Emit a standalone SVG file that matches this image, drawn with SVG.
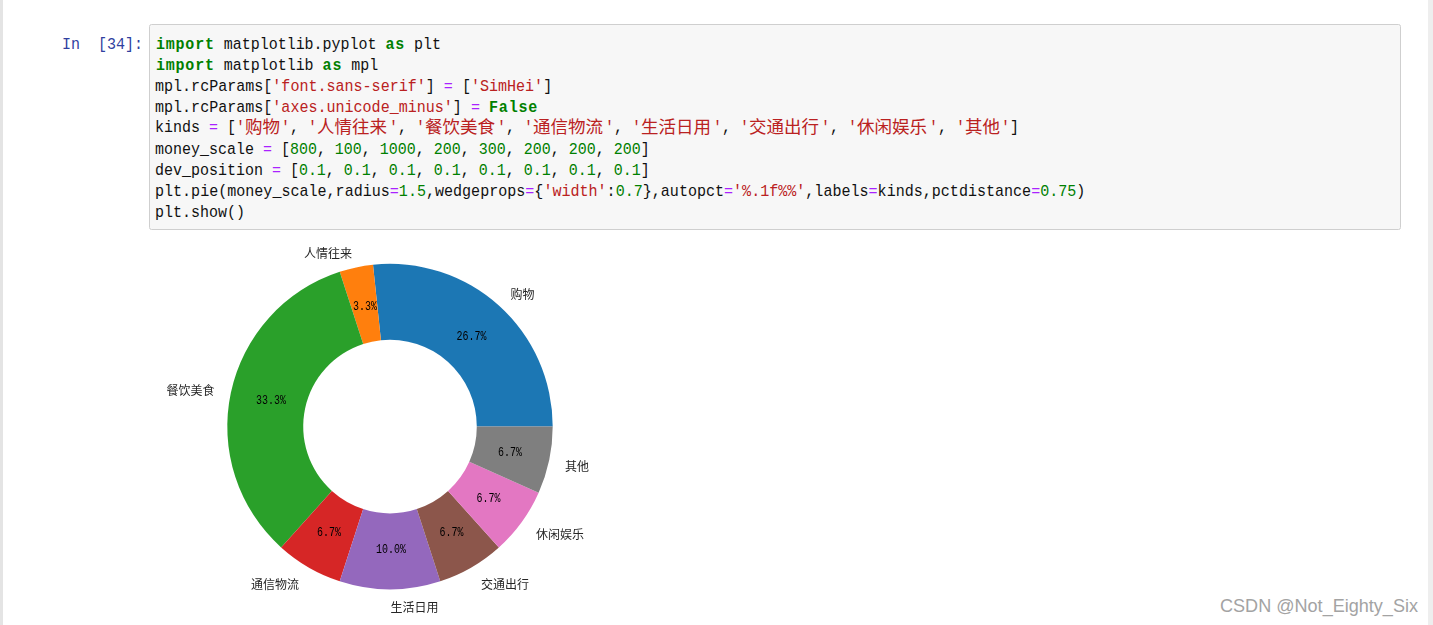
<svg xmlns="http://www.w3.org/2000/svg" width="1433" height="625" viewBox="0 0 1433 625">
<style>
.c{font-family:"Liberation Mono",monospace;font-size:17px;fill:#111;white-space:pre}
.k{fill:#008000;font-weight:bold;letter-spacing:.9px}
.o{fill:#aa22ff}
.s{fill:#ba2121}
.n{fill:#008000}
.h{font-family:"Noto Sans CJK SC",sans-serif;font-size:17.5px;fill:#ba2121}
.l{font-family:"Noto Sans CJK SC",sans-serif;font-size:12px;fill:#262626;text-anchor:middle;dominant-baseline:central}
.p{font-family:"Liberation Mono",monospace;font-size:12px;fill:#000;text-anchor:middle;dominant-baseline:central}
</style>
<defs><filter id="b" x="-5%" y="-5%" width="110%" height="110%"><feGaussianBlur stdDeviation="0.35"/></filter></defs>
<rect width="1433" height="625" fill="#fff"/>
<rect x="0" y="0" width="3" height="625" fill="#e4e4e4"/>
<rect x="1428" y="0" width="5" height="625" fill="#eeeeee"/>
<g id="prompt"><text class="c" transform="translate(62,49) scale(.882,1)" style="fill:#303f9f">In  [34]:</text></g>
<g id="cell">
<rect x="149.5" y="24.5" width="1251" height="205" rx="2" fill="#f7f7f7" stroke="#cfcfcf"/>
<text class="c" transform="translate(156,49) scale(.882,1)"><tspan class="k">import</tspan> matplotlib.pyplot <tspan class="k">as</tspan> plt</text>
<text class="c" transform="translate(156,70) scale(.882,1)"><tspan class="k">import</tspan> matplotlib <tspan class="k">as</tspan> mpl</text>
<text class="c" transform="translate(155,91) scale(.885,1)">mpl.rcParams[<tspan class="s">'font.sans-serif'</tspan>] <tspan class="o">=</tspan> [<tspan class="s">'SimHei'</tspan>]</text>
<text class="c" transform="translate(155,112) scale(.885,1)">mpl.rcParams[<tspan class="s">'axes.unicode_minus'</tspan>] <tspan class="o">=</tspan> <tspan class="k">False</tspan></text>
<text class="c" transform="translate(155,132) scale(.882,1)">kinds <tspan class="o">=</tspan> [<tspan class="s">'</tspan></text>
<text class="h" x="245" y="133">购物</text>
<text class="c" transform="translate(281,132) scale(.882,1)"><tspan class="s">'</tspan>, <tspan class="s">'</tspan></text>
<text class="h" x="317" y="133">人情往来</text>
<text class="c" transform="translate(389,132) scale(.882,1)"><tspan class="s">'</tspan>, <tspan class="s">'</tspan></text>
<text class="h" x="425" y="133">餐饮美食</text>
<text class="c" transform="translate(497,132) scale(.882,1)"><tspan class="s">'</tspan>, <tspan class="s">'</tspan></text>
<text class="h" x="533" y="133">通信物流</text>
<text class="c" transform="translate(605,132) scale(.882,1)"><tspan class="s">'</tspan>, <tspan class="s">'</tspan></text>
<text class="h" x="641" y="133">生活日用</text>
<text class="c" transform="translate(713,132) scale(.882,1)"><tspan class="s">'</tspan>, <tspan class="s">'</tspan></text>
<text class="h" x="749" y="133">交通出行</text>
<text class="c" transform="translate(821,132) scale(.882,1)"><tspan class="s">'</tspan>, <tspan class="s">'</tspan></text>
<text class="h" x="857" y="133">休闲娱乐</text>
<text class="c" transform="translate(929,132) scale(.882,1)"><tspan class="s">'</tspan>, <tspan class="s">'</tspan></text>
<text class="h" x="965" y="133">其他</text>
<text class="c" transform="translate(1001,132) scale(.882,1)"><tspan class="s">'</tspan>]</text>
<text class="c" transform="translate(155,154) scale(.882,1)">money_scale <tspan class="o">=</tspan> [<tspan class="n">800</tspan>, <tspan class="n">100</tspan>, <tspan class="n">1000</tspan>, <tspan class="n">200</tspan>, <tspan class="n">300</tspan>, <tspan class="n">200</tspan>, <tspan class="n">200</tspan>, <tspan class="n">200</tspan>]</text>
<text class="c" transform="translate(155,175) scale(.882,1)">dev_position <tspan class="o">=</tspan> [<tspan class="n">0.1</tspan>, <tspan class="n">0.1</tspan>, <tspan class="n">0.1</tspan>, <tspan class="n">0.1</tspan>, <tspan class="n">0.1</tspan>, <tspan class="n">0.1</tspan>, <tspan class="n">0.1</tspan>, <tspan class="n">0.1</tspan>]</text>
<text class="c" transform="translate(155,196) scale(.886,1)">plt.pie(money_scale,radius<tspan class="o">=</tspan><tspan class="n">1.5</tspan>,wedgeprops<tspan class="o">=</tspan>{<tspan class="s">'width'</tspan>:<tspan class="n">0.7</tspan>},autopct<tspan class="o">=</tspan><tspan class="s">'%.1f%%'</tspan>,labels<tspan class="o">=</tspan>kinds,pctdistance<tspan class="o">=</tspan><tspan class="n">0.75</tspan>)</text>
<text class="c" transform="translate(155,217) scale(.882,1)">plt.show()</text>
</g>
<g id="chart" filter="url(#b)">
<g id="w1"><path fill="#1f77b4" d="M552.7 426.5A162.7 162.7 0 0 0 373 264.7L380.93 340.18A86.8 86.8 0 0 1 476.8 426.5Z"/><text class="l" x="522.5" y="293">购物</text><text class="p" transform="translate(471.5,336.5) scale(.833,1)">26.7%</text></g>
<g id="w2"><path fill="#ff7f0e" d="M373 264.7A162.7 162.7 0 0 0 339.72 271.76L363.18 343.95A86.8 86.8 0 0 1 380.93 340.18Z"/><text class="l" x="328" y="252">人情往来</text><text class="p" transform="translate(365,307) scale(.833,1)">3.3%</text></g>
<g id="w3"><path fill="#2ca02c" d="M339.72 271.76A162.7 162.7 0 0 0 281.13 547.41L331.92 491A86.8 86.8 0 0 1 363.18 343.95Z"/><text class="l" x="190.5" y="389">餐饮美食</text><text class="p" transform="translate(271,401) scale(.833,1)">33.3%</text></g>
<g id="w4"><path fill="#d62728" d="M281.13 547.41A162.7 162.7 0 0 0 339.72 581.24L363.18 509.05A86.8 86.8 0 0 1 331.92 491Z"/><text class="l" x="275" y="583">通信物流</text><text class="p" transform="translate(329,532.5) scale(.833,1)">6.7%</text></g>
<g id="w5"><path fill="#9467bd" d="M339.72 581.24A162.7 162.7 0 0 0 440.28 581.24L416.82 509.05A86.8 86.8 0 0 1 363.18 509.05Z"/><text class="l" x="414.5" y="606">生活日用</text><text class="p" transform="translate(391,550) scale(.833,1)">10.0%</text></g>
<g id="w6"><path fill="#8c564b" d="M440.28 581.24A162.7 162.7 0 0 0 498.87 547.41L448.08 491A86.8 86.8 0 0 1 416.82 509.05Z"/><text class="l" x="505" y="583">交通出行</text><text class="p" transform="translate(451.5,532.5) scale(.833,1)">6.7%</text></g>
<g id="w7"><path fill="#e377c2" d="M498.87 547.41A162.7 162.7 0 0 0 538.64 492.68L469.3 461.8A86.8 86.8 0 0 1 448.08 491Z"/><text class="l" x="560" y="533.5">休闲娱乐</text><text class="p" transform="translate(488.5,499) scale(.833,1)">6.7%</text></g>
<g id="w8"><path fill="#7f7f7f" d="M538.64 492.68A162.7 162.7 0 0 0 552.7 426.5L476.8 426.5A86.8 86.8 0 0 1 469.3 461.8Z"/><text class="l" x="577" y="465">其他</text><text class="p" transform="translate(510,453) scale(.833,1)">6.7%</text></g>
</g>
<text x="1220" y="612" font-family="Liberation Sans, sans-serif" font-size="18.5" fill="#a3a3a3" textLength="198" lengthAdjust="spacingAndGlyphs">CSDN @Not_Eighty_Six</text>
</svg>
